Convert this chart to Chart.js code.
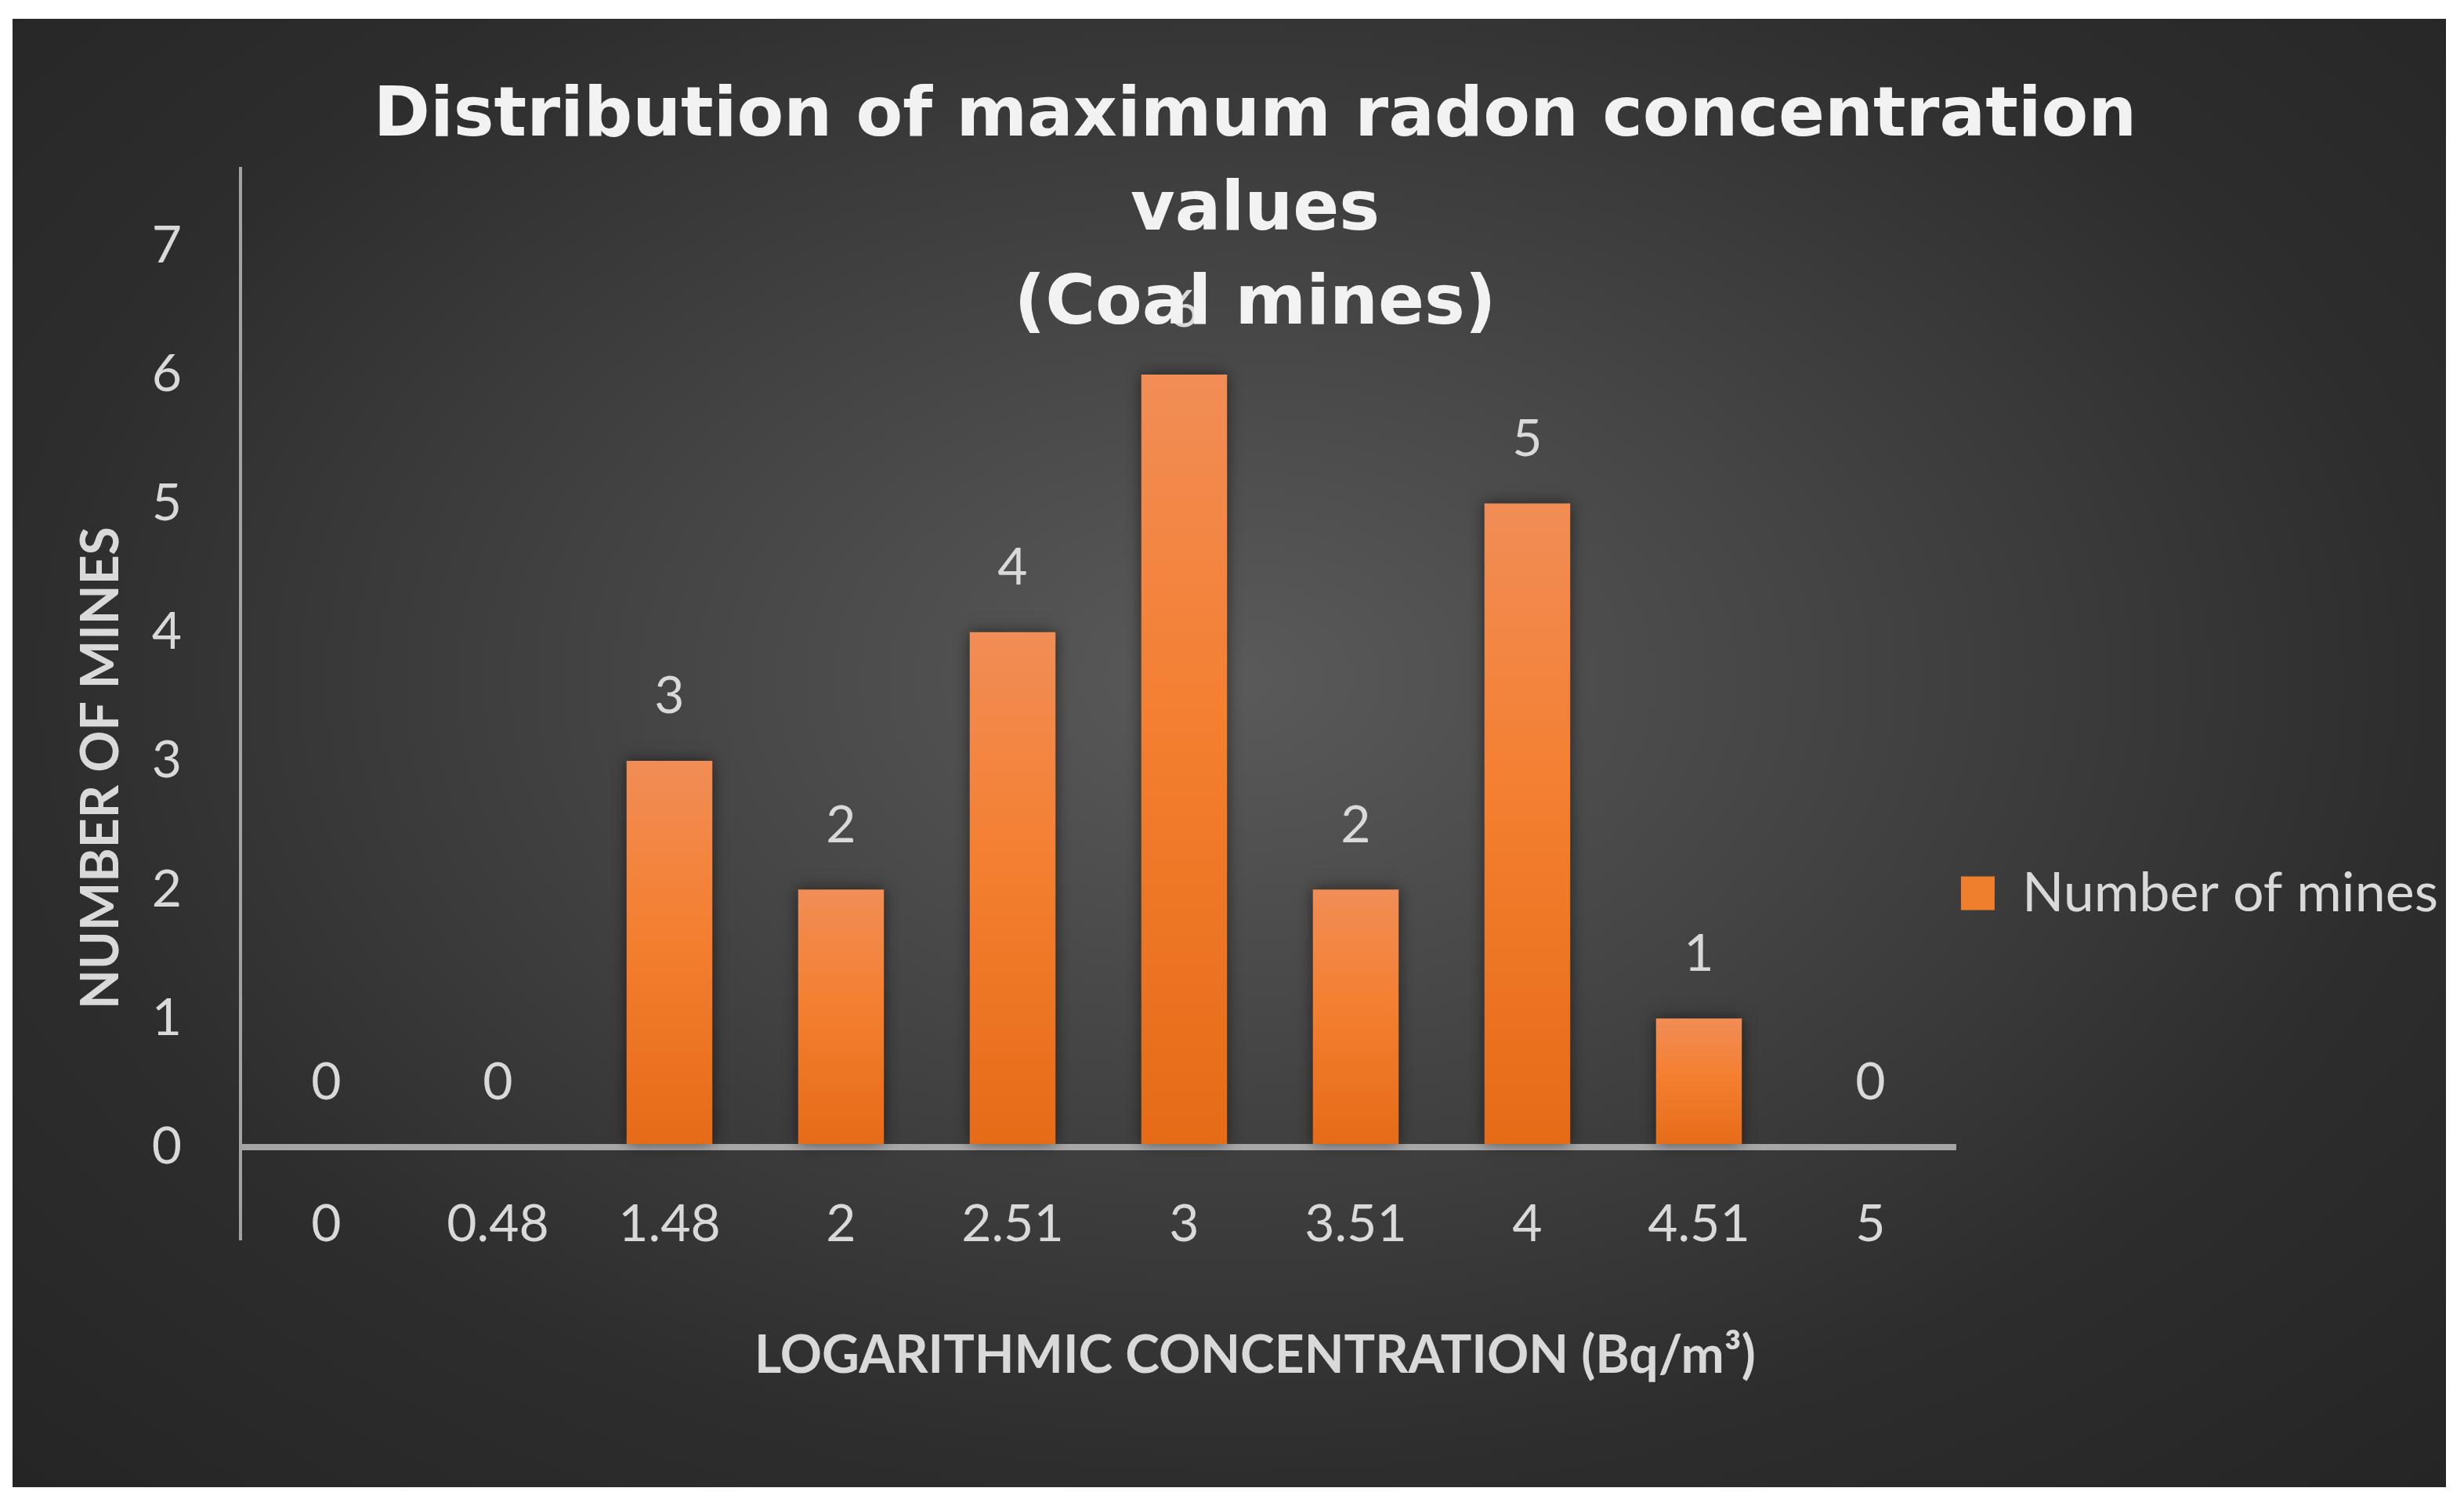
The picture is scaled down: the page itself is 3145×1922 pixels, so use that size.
<!DOCTYPE html>
<html lang="en">
<head>
    <meta charset="UTF-8">
    <title>Distribution of maximum radon concentration values (Coal mines)</title>
    <script src="https://cdn.jsdelivr.net/npm/chart.js"></script>
    <style>
        html, body {
            margin: 0;
            padding: 0;
            background: #fff;
        }
        body {
            width: 3145px;
            height: 1922px;
            position: relative;
            overflow: hidden;
        }
        .frame {
            position: absolute;
            left: 16px;
            top: 24px;
            width: 3106px;
            height: 1874px;
            background: radial-gradient(ellipse farthest-corner at 50% 45%, #5a5a5a 0%, #444 35%, #2d2d2d 70%, #252525 100%);
        }
        .chart-box {
            position: absolute;
            left: 66px;
            top: 0;
            width: 3040px;
            height: 1874px;
        }
    </style>
</head>
<body>
    <div class="frame">
        <div class="chart-box"><canvas id="radonChart"></canvas></div>
    </div>

    <script>
        // data
        const categories = ['0', '0.48', '1.48', '2', '2.51', '3', '3.51', '4', '4.51', '5'];
        const mineCounts = [0, 0, 3, 2, 4, 6, 2, 5, 1, 0];
        const yTicks = [0, 1, 2, 3, 4, 5, 6, 7];
        const titleLines = ['Distribution of maximum radon concentration', 'values', '(Coal mines)'];
        const xTitle = 'LOGARITHMIC CONCENTRATION (Bq/m\u00B3)';
        const yTitle = 'NUMBER OF MINES';
        const seriesName = 'Number of mines';

        const textGray = '#d9d9d9';
        const labelFont = { family: 'Lato', size: 66 };

        // orange gradient per bar, lighter at the top
        function barFill(c) {
            const chart = c.chart;
            if (!chart.chartArea) return '#f07f2d';
            const y = chart.scales.y;
            const top = y.getPixelForValue(c.raw);
            const base = y.getPixelForValue(0);
            if (base - top < 1) return '#f07f2d';
            const g = chart.ctx.createLinearGradient(0, top, 0, base);
            g.addColorStop(0, '#f18d56');
            g.addColorStop(0.45, '#f47f30');
            g.addColorStop(1, '#e56b17');
            return g;
        }

        // value labels go in first so the title is painted over the "6"
        const valueLabels = {
            id: 'valueLabels',
            beforeDraw(chart) {
                const ctx = chart.ctx;
                const meta = chart.getDatasetMeta(0);
                ctx.save();
                ctx.fillStyle = textGray;
                ctx.font = labelFont.size + 'px ' + labelFont.family;
                ctx.textAlign = 'center';
                ctx.textBaseline = 'middle';
                meta.data.forEach((bar, i) => {
                    ctx.fillText(String(mineCounts[i]), bar.x, bar.y - 82);
                });
                ctx.restore();
            }
        };

        const barShadow = {
            id: 'barShadow',
            beforeDatasetsDraw(chart) {
                const ctx = chart.ctx;
                ctx.save();
                ctx.shadowColor = 'rgba(0,0,0,0.55)';
                ctx.shadowBlur = 18;
            },
            afterDatasetsDraw(chart) {
                chart.ctx.restore();
            }
        };

        // axis titles sit where the original put them, not centred on the plot
        const axisTitles = {
            id: 'axisTitles',
            afterDraw(chart) {
                const ctx = chart.ctx;
                const area = chart.chartArea;
                ctx.save();
                ctx.fillStyle = textGray;
                ctx.font = 'bold 66px Lato';
                ctx.textAlign = 'center';
                ctx.textBaseline = 'middle';
                ctx.fillText(xTitle, chart.width / 2, area.bottom + 152);
                ctx.translate(area.left - 177, (area.top + area.bottom) / 2 + 83);
                ctx.rotate(-Math.PI / 2);
                ctx.fillText(yTitle, 0, 0);
                ctx.restore();
            }
        };

        const ctx = document.getElementById('radonChart').getContext('2d');
        const radonChart = new Chart(ctx, {
            type: 'bar',
            data: {
                labels: categories,
                datasets: [{
                    label: seriesName,
                    data: mineCounts,
                    backgroundColor: barFill,
                    borderWidth: 0,
                    barPercentage: 0.5,
                    categoryPercentage: 1
                }]
            },
            options: {
                responsive: true,
                maintainAspectRatio: false,
                animation: false,
                layout: { padding: { left: 0, right: 0, top: 0, bottom: 0 } },
                plugins: {
                    title: {
                        display: true,
                        text: titleLines,
                        color: '#f2f2f2',
                        font: { family: 'DejaVu Sans', weight: 'bold', size: 87, lineHeight: 1.38 },
                        padding: { top: 66, bottom: -235 }
                    },
                    legend: {
                        position: 'right',
                        align: 'center',
                        title: {
                            display: true,
                            text: ' ',
                            color: 'rgba(0,0,0,0)',
                            font: { size: 10 },
                            padding: { top: 0, bottom: 346 }
                        },
                        labels: {
                            color: textGray,
                            font: { family: 'Lato', size: 70 },
                            boxWidth: 43,
                            boxHeight: 43,
                            padding: 6
                        }
                    },
                    tooltip: { enabled: false }
                },
                scales: {
                    x: {
                        grid: { display: false, drawTicks: false },
                        border: { display: false },
                        afterFit: s => { s.height = 319; },
                        ticks: {
                            color: textGray,
                            font: labelFont,
                            mirror: true,
                            padding: -23,
                            maxRotation: 0,
                            autoSkip: false
                        }
                    },
                    y: {
                        min: -0.7,
                        max: 7.6,
                        afterBuildTicks: s => { s.ticks = yTicks.map(v => ({ value: v })); },
                        afterFit: s => { s.width = 225; },
                        grid: {
                            drawTicks: false,
                            color: c => (c.tick && c.tick.value === 0) ? 'rgba(178,178,178,0.9)' : 'rgba(0,0,0,0)',
                            lineWidth: c => (c.tick && c.tick.value === 0) ? 8 : 0
                        },
                        border: { display: true, color: '#a3a3a3', width: 4 },
                        ticks: {
                            color: textGray,
                            font: labelFont,
                            padding: 75
                        }
                    }
                }
            },
            plugins: [valueLabels, barShadow, axisTitles]
        });
    </script>
</body>
</html>
